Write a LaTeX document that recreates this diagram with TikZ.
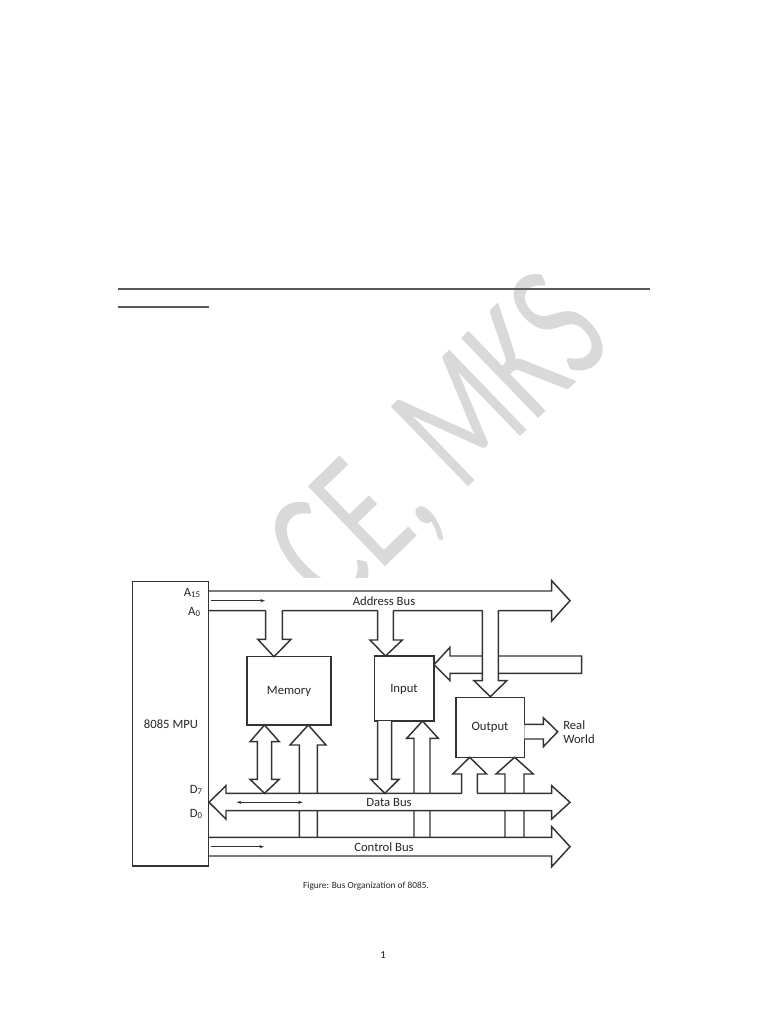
\documentclass[tikz,border=0pt]{standalone}
\usepackage{fontspec}
\setmainfont{Carlito}
\usepackage{graphicx}
\usepackage{tikz}
\usetikzlibrary{positioning,calc,arrows.meta}
\tikzset{dbox/.style={draw=black!80, line width=1.1pt, fill=white, inner sep=0pt, align=center}}
\tikzset{dbus/.style={draw=black!80, line width=1.1pt, fill=white, line join=miter}}
\tikzset{arr1/.style={draw=black!80, line width=0.5pt, -{Stealth[length=3.5pt,width=2.4pt]}}}
\tikzset{arr2/.style={draw=black!80, line width=0.5pt, {Stealth[length=3.5pt,width=2.4pt]}-{Stealth[length=3.5pt,width=2.4pt]}}}
\tikzset{lbl/.style={font=\fontsize{9.5}{10}\selectfont, text=black!85, inner sep=0pt}}
\tikzset{pgrule/.style={draw=black!65, line width=1.3pt}}

\begin{document}
\begin{tikzpicture}[x=0.75pt, y=-0.75pt]
\useasboundingbox (0,0) rectangle (768,1024);
% watermark, cut off by the figure
\node[rotate=44, text=black!15, inner sep=0pt, anchor=base west] (wmark) at (334,616)
    {\fontsize{130}{130}\selectfont\scalebox{0.68}[1]{CE, MKS}};
\fill[white] (118,578) rectangle (600,905);
\draw[pgrule] (118,289) -- (650,289);
\draw[pgrule] (118,307) -- (209,307);

% processor
\node[dbox, minimum width=57.3pt, minimum height=213.2pt] (mpu) at (170.5,723.85) {};
\node[lbl] (mpulbl) at (171,724) {8085 MPU};
\node[lbl, anchor=east] (a15) at (201,593) {A\textsubscript{15}};
\node[lbl, anchor=east] (a0) at (201,612) {A\textsubscript{0}};
\node[lbl, anchor=east] (d7) at (203,790) {D\textsubscript{7}};
\node[lbl, anchor=east] (d0) at (203,814) {D\textsubscript{0}};

% address bus
\draw[dbus] (209,591) -- (551.7,591) -- (551.7,580.7) -- (570,600.7)
    -- (551.7,621) -- (551.7,610.7) -- (209,610.7);
\node[lbl] (abus) at (384,601) {Address Bus};
\coordinate (ab1) at (211,600.7);
\coordinate (ab2) at (265,600.7);
\draw[arr1] (ab1) -- (ab2);

% memory, input, output
\node[dbox, minimum width=63pt, minimum height=51.2pt] (mem) at (289,690.85) {};
\node[lbl] (memlbl) at (289,691) {Memory};
\node[dbox, minimum width=44.8pt, minimum height=48.75pt] (inp) at (404.15,688.5) {};
\node[lbl] (inplbl) at (404,689.3) {Input};
\node[dbox, minimum width=51.2pt, minimum height=45pt] (outp) at (490.15,727.3) {};
\node[lbl] (outlbl) at (490,727.3) {Output};

% into the input port
\draw[dbus] (581.7,656) -- (450,656) -- (450,647.3) -- (434,664.7)
    -- (450,680.7) -- (450,673.3) -- (581.7,673.3) -- cycle;

% address bus down to memory, input, output
\fill[white] (266.4,609) rectangle (281.6,612.5);
\draw[dbus] (265.7,610.7) -- (265.7,639.3) -- (257.7,639.3) -- (274,656.7)
    -- (291,639.3) -- (282.3,639.3) -- (282.3,610.7);
\fill[white] (378.4,609) rectangle (392.6,612.5);
\draw[dbus] (377.7,610.7) -- (377.7,640) -- (370,640) -- (385.5,656)
    -- (402.3,640) -- (393.3,640) -- (393.3,610.7);
\fill[white] (483,609) rectangle (497.6,612.5);
\draw[dbus] (482.3,610.7) -- (482.3,680.7) -- (474,680.7) -- (490.3,696.7)
    -- (506.7,680.7) -- (498.3,680.7) -- (498.3,610.7);

% real world
\draw[dbus] (524.3,724.3) -- (543.3,724.3) -- (543.3,717.7) -- (557.7,731.7)
    -- (543.3,746.7) -- (543.3,739) -- (524.3,739);
\node[lbl, anchor=west] (real) at (563,725) {Real};
\node[lbl, anchor=west] (world) at (563,739.3) {World};

% control bus up to memory, input, output
\draw[dbus] (299.3,837.3) -- (299.3,745) -- (290,745) -- (308.3,725)
    -- (326,745) -- (317.3,745) -- (317.3,837.3);
\draw[dbus] (414,837.3) -- (414,738.3) -- (406.7,738.3) -- (422.5,721)
    -- (438.3,738.3) -- (430,738.3) -- (430,837.3);
\draw[dbus] (505,837.3) -- (505,774) -- (496,774) -- (514.6,757.3)
    -- (533.3,774) -- (524,774) -- (524,837.3);

% data bus
\draw[dbus] (209,802.3) -- (226,785.7) -- (226,793.3) -- (551.7,793.3)
    -- (551.7,785.7) -- (570,802.3) -- (551.7,819) -- (551.7,810.7)
    -- (226,810.7) -- (226,819) -- cycle;
\node[lbl] (dbuslbl) at (389,802.5) {Data Bus};
\coordinate (db1) at (236.7,802.3);
\coordinate (db2) at (302.7,802.3);
\draw[arr2] (db1) -- (db2);
\draw[dbus] (264.5,725) -- (279.3,741.7) -- (271.7,741.7) -- (271.7,779.3)
    -- (279.3,779.3) -- (264.5,793.3) -- (250,779.3) -- (257.3,779.3)
    -- (257.3,741.7) -- (250,741.7) -- cycle;
\draw[dbus] (377.7,721) -- (377.7,779.3) -- (370.7,779.3) -- (384.8,793.3)
    -- (399,779.3) -- (391.7,779.3) -- (391.7,721);
\fill[white] (462.4,792) rectangle (476.6,795);
\draw[dbus] (461.7,793.3) -- (461.7,774) -- (452.7,774) -- (469.7,757.3)
    -- (486.7,774) -- (477.3,774) -- (477.3,793.3);

% control bus
\draw[dbus] (209,837.3) -- (551.7,837.3) -- (551.7,826.7) -- (570,846.7)
    -- (551.7,866.7) -- (551.7,856) -- (209,856);
\node[lbl] (cbus) at (384,847.3) {Control Bus};
\coordinate (cb1) at (211,846.7);
\coordinate (cb2) at (264,846.7);
\draw[arr1] (cb1) -- (cb2);

\node[font=\fontsize{7}{8}\selectfont, text=black!85] (caption) at (366,886.5) {Figure: Bus Organization of 8085.};
\node[font=\fontsize{8}{9}\selectfont, text=black!90] (pageno) at (383,955) {1};
\end{tikzpicture}
\end{document}
